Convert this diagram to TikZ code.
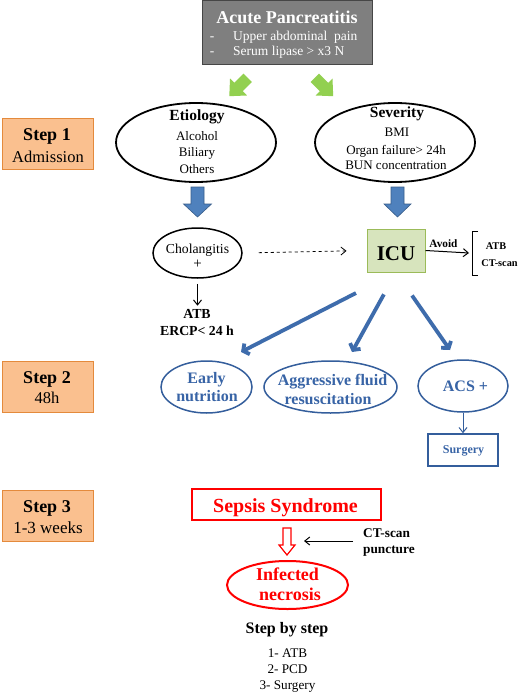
\documentclass[tikz,border=0pt]{standalone}
\usepackage{fontspec}
\setmainfont{Liberation Serif}
\usetikzlibrary{arrows.meta,shapes.geometric,calc}
\newcommand{\fsz}[1]{\fontsize{#1}{#1}\selectfont}
\definecolor{boxgray}{RGB}{127,127,127}
\definecolor{boxgraydark}{RGB}{70,70,70}
\definecolor{arrgreen}{RGB}{146,208,80}
\definecolor{stepfill}{RGB}{250,192,143}
\definecolor{stepdraw}{RGB}{228,138,60}
\definecolor{blockblue}{RGB}{79,129,189}
\definecolor{blockbluedark}{RGB}{56,93,138}
\definecolor{icufill}{RGB}{215,228,189}
\definecolor{icudraw}{RGB}{155,187,89}
\definecolor{ellblue}{RGB}{52,94,156}
\definecolor{txtblue}{RGB}{56,100,166}
\definecolor{lnblue}{RGB}{62,108,172}
\definecolor{sred}{RGB}{255,0,0}
\begin{document}
\begin{tikzpicture}[x=1pt,y=-1pt,
  txt/.style={anchor=base,inner sep=0pt},
  txtw/.style={anchor=base west,inner sep=0pt},
  stepbox/.style={draw=stepdraw,fill=stepfill,line width=1pt,minimum width=91pt,minimum height=51pt,inner sep=0pt},
  blackell/.style={draw=black,ellipse,line width=1.8pt,inner sep=0pt},
  blueell/.style={draw=ellblue,ellipse,line width=1.5pt,inner sep=0pt},
  thinarr/.style={-{Straight Barb[length=5pt,width=8pt]},line width=1pt},
  bluearr/.style={draw=lnblue,line width=3.8pt,-{Straight Barb[length=4.5pt,width=12pt]}},
  greenarr/.style={fill=arrgreen,draw=none},
  blockarr/.style={fill=blockblue,draw=blockbluedark,line width=0.6pt}
]
\path[use as bounding box] (0,0) rectangle (520,695);
\fill[white] (0,0) rectangle (520,695);

% top box
\node[draw=boxgraydark,fill=boxgray,line width=1pt,minimum width=170pt,minimum height=64pt,inner sep=0pt] (ap) at (287,33) {};
\node[txt,text=white,font=\fsz{18}\bfseries] (apt) at (287,24) {Acute Pancreatitis};
\node[txt,text=white,font=\fsz{13.5}] (d1) at (212,41) {-};
\node[txtw,text=white,font=\fsz{13.5}] (ap1) at (233,41) {Upper abdominal\ \ pain};
\node[txt,text=white,font=\fsz{13.5}] (d2) at (212,56) {-};
\node[txtw,text=white,font=\fsz{13.5}] (ap2) at (233,56) {Serum lipase > x3 N};

% green arrows
\fill[greenarr,shift={(238.5,87)},rotate=225] (-13,-6) -- (0,-6) -- (0,-12) -- (13,0) -- (0,12) -- (0,6) -- (-13,6) -- cycle;
\fill[greenarr,shift={(324,87)},rotate=-45] (-13,-6) -- (0,-6) -- (0,-12) -- (13,0) -- (0,12) -- (0,6) -- (-13,6) -- cycle;

% step 1
\node[stepbox] (s1) at (47.5,144) {};
\node[txt,font=\fsz{18}\bfseries] (s1a) at (47,141) {Step 1};
\node[txt,font=\fsz{16.5}] (s1b) at (48,162) {Admission};

% etiology / severity
\node[blackell,minimum width=160pt,minimum height=79pt] (etio) at (196,142.5) {};
\node[txt,font=\fsz{15.5}\bfseries] (etio0) at (197,121) {Etiology};
\node[txt,font=\fsz{13}] (etio1) at (197,141) {Alcohol};
\node[txt,font=\fsz{13}] (etio2) at (197,157) {Biliary};
\node[txt,font=\fsz{13}] (etio3) at (197,174) {Others};

\node[blackell,minimum width=160pt,minimum height=79pt] (sev) at (395,142.5) {};
\node[txt,font=\fsz{15.5}\bfseries] (sev0) at (397,118) {Severity};
\node[txt,font=\fsz{13}] (sev1) at (397,137) {BMI};
\node[txt,font=\fsz{13}] (sev2) at (396,154) {Organ failure> 24h};
\node[txt,font=\fsz{13}] (sev3) at (396,170) {BUN concentration};

% blue block arrows
\filldraw[blockarr] (191,187) -- (204,187) -- (204,204) -- (211.5,204) -- (197.5,217) -- (183.5,204) -- (191,204) -- cycle;
\filldraw[blockarr] (391,187) -- (404,187) -- (404,204) -- (411,204) -- (397.5,217) -- (384,204) -- (391,204) -- cycle;

% cholangitis
\node[blackell,line width=1.5pt,minimum width=89pt,minimum height=50pt] (chol) at (197.5,253) {};
\node[txt,font=\fsz{13.7}] (chol1) at (197.5,253) {Cholangitis};
\node[txt,font=\fsz{15}] (chol2) at (197.5,268) {+};

\node[txt,font=\fsz{13.8}\bfseries] (atb) at (197,318) {ATB};
\node[txt,font=\fsz{13.8}\bfseries] (ercp) at (197,335) {ERCP< 24 h};
\draw[thinarr,shorten <=5pt,shorten >=3pt] (chol.south) -- (chol.south |- atb.north);

% ICU
\node[draw=icudraw,fill=icufill,line width=1pt,minimum width=58pt,minimum height=43pt,inner sep=0pt] (icu) at (396,250.5) {};
\node[txt,font=\fsz{21}\bfseries] (icut) at (396,260) {ICU};
\draw[thinarr,dashed,line width=0.8pt,shorten <=16pt,shorten >=20pt] (chol.east) -- (icu.west);

\coordinate (brk) at (469,253);
\draw[thinarr] (icu.east) -- (brk);
\node[txt,font=\fsz{11.3}\bfseries] (avoid) at (443.5,247) {Avoid};
\draw[line width=1pt] (478,231) -- (472.5,231) -- (472.5,275) -- (478,275);
\node[txt,font=\fsz{10.3}\bfseries] (atb2) at (496,249) {ATB};
\node[txt,font=\fsz{10.3}\bfseries] (ct2) at (499.5,266) {CT-scan};

% step 2
\node[stepbox] (s2) at (47.5,386.5) {};
\node[txt,font=\fsz{18}\bfseries] (s2a) at (47,383) {Step 2};
\node[txt,font=\fsz{16.5}] (s2b) at (47,403) {48h};

% blue ellipses
\node[blueell,minimum width=91pt,minimum height=52pt] (early) at (206.5,387) {};
\node[txt,text=txtblue,font=\fsz{16}\bfseries] (early1) at (206.5,383) {Early};
\node[txt,text=txtblue,font=\fsz{16}\bfseries] (early2) at (207,401) {nutrition};

\node[blueell,minimum width=133pt,minimum height=52pt] (aggr) at (330.5,387) {};
\node[txt,text=txtblue,font=\fsz{16}\bfseries] (aggr1) at (332.5,385) {Aggressive fluid};
\node[txt,text=txtblue,font=\fsz{16}\bfseries] (aggr2) at (328,404) {resuscitation};

\node[blueell,minimum width=90pt,minimum height=52pt] (acs) at (463,386) {};
\node[txt,text=txtblue,font=\fsz{16}\bfseries] (acs1) at (465.5,391) {ACS +};

\node[draw=ellblue,line width=1.5pt,minimum width=70pt,minimum height=32pt,inner sep=0pt] (surg) at (463,450) {};
\node[txt,text=txtblue,font=\fsz{12}\bfseries] (surg1) at (463.5,453) {Surgery};
\draw[draw=ellblue,line width=1pt,-{Straight Barb[length=5pt,width=8pt]}] (acs.south) -- (surg.north);

% arrows from ICU
\coordinate (e1) at (241,352);
\coordinate (e2) at (352,352);
\coordinate (e3) at (450,350);
\draw[bluearr,shorten <=45pt] (icu.south) -- (e1);
\draw[bluearr,shorten <=25pt] (icu.south) -- (e2);
\draw[bluearr,shorten <=28pt] (icu.south) -- (e3);

% step 3
\node[stepbox] (s3) at (47.5,515.5) {};
\node[txt,font=\fsz{18}\bfseries] (s3a) at (47,512) {Step 3};
\node[txt,font=\fsz{17}] (s3b) at (48,533) {1-3 weeks};

\node[draw=sred,line width=1.5pt,minimum width=189pt,minimum height=31pt,inner sep=0pt] (sepsis) at (286.5,504.5) {};
\node[txt,text=sred,font=\fsz{20}\bfseries] (sepsis1) at (285.5,512) {Sepsis Syndrome};

\filldraw[draw=sred,fill=white,line width=1.2pt] (283,528) -- (291,528) -- (291,545) -- (295,545) -- (287,555) -- (279,545) -- (283,545) -- cycle;

\node[blackell,draw=sred,line width=2pt,minimum width=121pt,minimum height=48pt] (inf) at (287.5,585) {};
\node[txt,text=sred,font=\fsz{18}\bfseries] (inf1) at (287.5,580) {Infected};
\node[txt,text=sred,font=\fsz{18}\bfseries] (inf2) at (290,600) {necrosis};

\node[txtw,font=\fsz{13.3}\bfseries] (ct3) at (363,537) {CT-scan};
\node[txtw,font=\fsz{13.3}\bfseries] (punct) at (363,553) {puncture};
\coordinate (ctend) at (304,541);
\coordinate (ctstart) at (353,541);
\draw[thinarr] (ctstart) -- (ctend);

\node[txt,font=\fsz{16}\bfseries] (sbs) at (287,633) {Step by step};
\node[txt,font=\fsz{13.2}] (sbs1) at (287.5,657) {1- ATB};
\node[txt,font=\fsz{13.2}] (sbs2) at (287.5,673) {2- PCD};
\node[txt,font=\fsz{13.2}] (sbs3) at (287.5,689) {3- Surgery};
\end{tikzpicture}
\end{document}
